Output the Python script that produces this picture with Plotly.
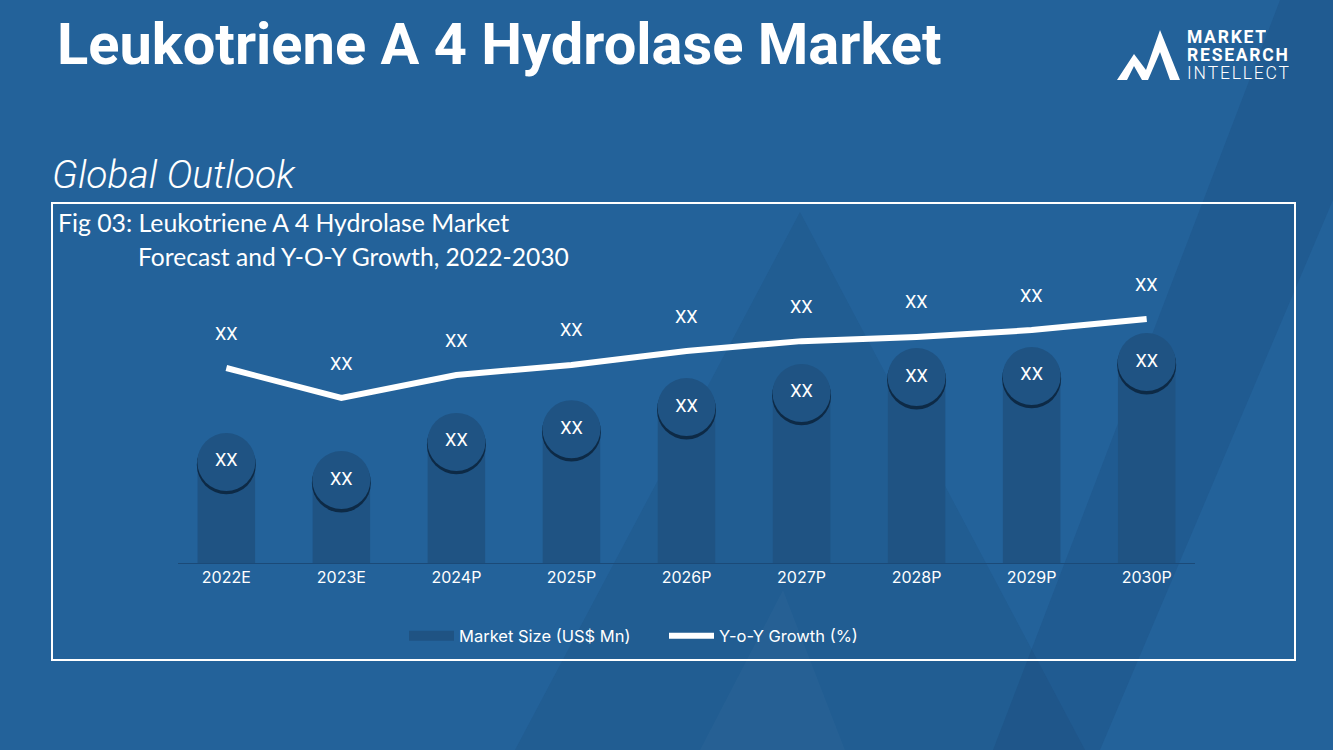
import plotly.graph_objects as go

# ---- data ----
categories = ["2022E", "2023E", "2024P", "2025P", "2026P", "2027P", "2028P", "2029P", "2030P"]
market_size = [35.7, 29.3, 42.8, 47.3, 55.1, 60.1, 65.7, 66.1, 71.0]
yoy_growth = [68.9, 58.3, 66.4, 70.0, 74.9, 78.4, 79.9, 82.3, 86.2]
bar_labels = ["XX"] * 9
line_labels = ["XX"] * 9

BG = "#23629a"
BAR = "#1f5383"
SHADOW = "rgba(8,28,50,0.75)"

# plot area in pixels
L, R, T, B = 178, 1195, 280, 563
W, H = 1333, 750


def px(x):
    return (x - L) / (R - L)


def py(y):
    return (B - y) / (B - T)


def spaced(s):
    return "\u200a".join(s)


fig = go.Figure()

fig.add_trace(go.Bar(
    x=categories, y=market_size, width=0.5,
    marker=dict(color=BAR, line=dict(width=0)),
    showlegend=False, hoverinfo="skip",
))
# shadow under bubbles
fig.add_trace(go.Scatter(
    x=categories, y=[v - 1.0 for v in market_size], mode="markers",
    marker=dict(size=59, color=SHADOW, line=dict(width=0)),
    showlegend=False, hoverinfo="skip",
))
fig.add_trace(go.Scatter(
    x=categories, y=market_size, mode="markers+text",
    text=bar_labels, textposition="middle center",
    textfont=dict(family="Roboto", size=18, color="white"),
    marker=dict(size=58, color=BAR, line=dict(width=0)),
    showlegend=False, hoverinfo="skip",
))
# legend proxy for bars
fig.add_trace(go.Scatter(
    x=[None], y=[None], mode="lines", name="Market Size (US$ Mn)",
    line=dict(color=BAR, width=10),
))
fig.add_trace(go.Scatter(
    x=categories, y=yoy_growth, mode="lines", name="Y-o-Y Growth (%)",
    line=dict(color="white", width=6), yaxis="y2", hoverinfo="skip",
))

annotations = []
for c, v, t in zip(categories, yoy_growth, line_labels):
    annotations.append(dict(x=c, y=v, yref="y2", text=t, showarrow=False,
                            yshift=35, font=dict(family="Roboto", size=18, color="white")))

annotations += [
    dict(xref="paper", yref="paper", x=px(55), y=py(44), xanchor="left", yanchor="middle",
         text="<b>Leukotriene A 4 Hydrolase Market</b>", showarrow=False,
         font=dict(family="Roboto", size=57.8, color="white")),
    dict(xref="paper", yref="paper", x=px(50), y=py(175), xanchor="left", yanchor="middle",
         text="<i>Global Outlook</i>", showarrow=False,
         font=dict(family="Roboto", size=39, color="white", weight=300)),
    dict(xref="paper", yref="paper", x=px(56), y=py(222), xanchor="left", yanchor="middle",
         text="Fig 03: Leukotriene A 4 Hydrolase Market", showarrow=False,
         font=dict(family="Lato", size=24.8, color="white")),
    dict(xref="paper", yref="paper", x=px(136), y=py(256), xanchor="left", yanchor="middle",
         text="Forecast and Y-O-Y Growth, 2022-2030", showarrow=False,
         font=dict(family="Lato", size=24.6, color="white")),
    dict(xref="paper", yref="paper", x=px(1185), y=py(37), xanchor="left", yanchor="middle",
         text="<b>" + spaced("MARKET") + "</b>", showarrow=False, height=17,
         font=dict(family="Roboto", size=17.5, color="white")),
    dict(xref="paper", yref="paper", x=px(1185), y=py(55), xanchor="left", yanchor="middle",
         text="<b>" + spaced("RESEARCH") + "</b>", showarrow=False, height=17,
         font=dict(family="Roboto", size=17.5, color="white")),
    dict(xref="paper", yref="paper", x=px(1185), y=py(73), xanchor="left", yanchor="middle",
         text=spaced("INTELLECT"), showarrow=False, height=17,
         font=dict(family="Roboto", size=17.5, color="white", weight=300)),
]


def path(points):
    return "M " + " L ".join(f"{px(a):.5f},{py(b):.5f}" for a, b in points) + " Z"


shapes = [
    # background decorative triangles
    dict(type="path", xref="paper", yref="paper", layer="below", line=dict(width=0),
         fillcolor="rgba(15,45,80,0.10)",
         path=path([(800, 212), (1085, 750), (515, 750)])),
    dict(type="path", xref="paper", yref="paper", layer="below", line=dict(width=0),
         fillcolor="rgba(15,45,80,0.12)",
         path=path([(1280, 0), (1333, 0), (1333, 200), (1100, 750), (993, 750)])),
    dict(type="path", xref="paper", yref="paper", layer="below", line=dict(width=0),
         fillcolor="rgba(255,255,255,0.025)",
         path=path([(783, 590), (845, 750), (700, 750)])),
    # frame
    dict(type="rect", xref="paper", yref="paper", x0=px(52), x1=px(1295), y0=py(660), y1=py(203),
         line=dict(color="white", width=2), layer="above"),
    # logo mark
    dict(type="path", xref="paper", yref="paper", line=dict(width=0), fillcolor="white",
         path=path([(1117, 80), (1134, 54), (1146, 70), (1160, 30), (1180, 80), (1170, 80),
                    (1160, 52), (1148, 80), (1142, 80), (1134, 66), (1127, 80)])),
]

fig.update_layout(
    width=W, height=H,
    margin=dict(l=L, r=W - R, t=T, b=H - B, pad=0),
    paper_bgcolor=BG, plot_bgcolor="rgba(0,0,0,0)",
    xaxis=dict(range=[-0.42, 8.42], showgrid=False, zeroline=False, showline=True,
               linecolor="#1b4a78", linewidth=1, ticks="",
               tickfont=dict(family="Inter", size=16, color="white"), fixedrange=True),
    yaxis=dict(range=[0, 100], visible=False, fixedrange=True),
    yaxis2=dict(range=[0, 100], visible=False, overlaying="y", fixedrange=True),
    legend=dict(orientation="h", x=px(404), y=py(636), xanchor="left", yanchor="middle",
                bgcolor="rgba(0,0,0,0)", font=dict(family="Inter", size=16.5, color="white"),
                traceorder="normal", itemwidth=45, entrywidth=200, entrywidthmode="pixels"),
    annotations=annotations,
    shapes=shapes,
    showlegend=True,
)

fig.write_html("out.html", config={"displayModeBar": False},
               post_script="document.body.style.margin='0';document.body.style.background='" + BG + "';")
